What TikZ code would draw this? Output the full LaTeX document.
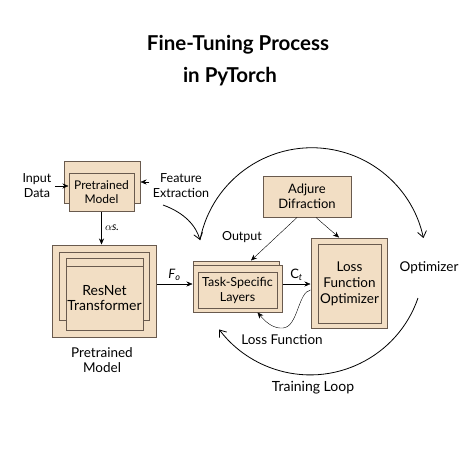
\documentclass[tikz,border=0pt]{standalone}
\usepackage{fontspec}
\setmainfont{Lato}
\usepackage{xcolor}
\usetikzlibrary{positioning,arrows.meta}
\definecolor{boxfill}{RGB}{242,222,196}
\definecolor{boxline}{RGB}{105,90,78}

\begin{document}
\begin{tikzpicture}[x=1pt,y=-1pt,>={Stealth[length=6pt,width=5pt]},
	box/.style={draw=boxline,fill=boxfill,line width=1pt,align=center,inner sep=0pt},
	lbl/.style={align=center,font=\fontsize{12.5}{15}\selectfont},
	barb/.style={-{Straight Barb[length=6pt,width=9pt]},line width=0.8pt}]
	\useasboundingbox (0,0) rectangle (474,474);

	\node[font=\bfseries\fontsize{20.5}{24}\selectfont] (title1) at (238,45) {Fine-Tuning Process};
	\node[font=\bfseries\fontsize{20.5}{24}\selectfont] (title2) at (230,77) {in PyTorch};

	% pretrained model (top)
	\node[box, minimum width=76pt, minimum height=42pt] (preback) at (102,182) {};
	\node[box, minimum width=65pt, minimum height=38pt, font=\fontsize{12}{14}\selectfont] (pre) at (101.5,192) {Pretrained\\Model};
	\node[lbl] (input) at (37,186) {Input\\Data};
	\node[lbl] (feat) at (181,186) {Feature\\Extraction};

	% resnet stack
	\node[box, minimum width=104pt, minimum height=92pt] (resback) at (104,291) {};
	\draw[box] (59,252) rectangle (149,320);
	\draw[box] (66,258) rectangle (143,330);
	\node[box, minimum width=77pt, minimum height=64pt, font=\fontsize{14}{15}\selectfont] (resnet) at (104.5,298) {ResNet\\Transformer};
	\node[lbl, font=\fontsize{13.5}{15}\selectfont] (pretxt) at (102,360) {Pretrained\\Model};

	% task specific layers
	\node[box, minimum width=86pt, minimum height=39pt] (taskback) at (236,280.5) {};
	\node[box, minimum width=89pt, minimum height=47pt] (task) at (237.5,288.5) {};
	\node[box, minimum width=79pt, minimum height=36pt, font=\fontsize{12.5}{15}\selectfont] (tasktxt) at (237.5,290) {Task-Specific\\Layers};

	% loss function optimizer
	\node[box, minimum width=76pt, minimum height=90pt] (loss) at (349,283) {};
	\node[box, minimum width=63pt, minimum height=79pt, font=\fontsize{13.5}{16}\selectfont] (losstxt) at (349.5,283.5) {Loss\\Function\\Optimizer};

	% adjure
	\node[box, minimum width=88pt, minimum height=41pt, font=\fontsize{13}{15}\selectfont] (adj) at (307,196.5) {Adjure\\Difraction};

	\node[lbl] (outlbl) at (242,237) {Output};
	\node[lbl, font=\fontsize{13.5}{15}\selectfont] (optlbl) at (429,268) {Optimizer};
	\node[lbl, font=\fontsize{13.5}{15}\selectfont] (losslbl) at (282,340) {Loss Function};
	\node[lbl, font=\fontsize{14}{15}\selectfont] (looplbl) at (313,388) {Training Loop};

	% connectors
	\draw[->] (input.east |- 0,186) -- (pre.west |- 0,186);
	\draw[->] (feat.west |- 0,182) -- (preback.east |- 0,182);
	\draw[->] (pre.south) -- node[right, font=\fontsize{11}{12}\selectfont] {$\alpha$\textit{s.}} (resback.north -| pre.south);
	\draw[->] (resback.east |- 0,284) -- node[above, font=\fontsize{13}{14}\selectfont] {\textit{F}\textsubscript{\textit{o}}} (task.west |- 0,284);
	\draw[->] (task.east |- 0,284) -- node[above, font=\fontsize{13}{14}\selectfont] {C\textsubscript{\textit{t}}} (loss.west |- 0,284);
	\draw[->] ([xshift=-10pt]adj.south) -- ([xshift=15pt]taskback.north);
	\draw[->] ([xshift=9pt]adj.south) -- ([xshift=-10pt]loss.north);
	\draw[->] (loss.west |- 0,290) .. controls (298,292) and (298,327) .. (283,328)
		.. controls (272,329) and (264,320) .. ([xshift=20pt]task.south);

	% training loop
	\coordinate (tip) at (200,240);
	\draw[barb] (163,205) .. controls (185,213) and (196,226) .. (tip);
	\draw[barb] (tip) arc[start angle=-169, end angle=-12, radius=114];
	\draw[barb] (418,298) arc[start angle=19, end angle=143, radius=114];
\end{tikzpicture}
\end{document}
